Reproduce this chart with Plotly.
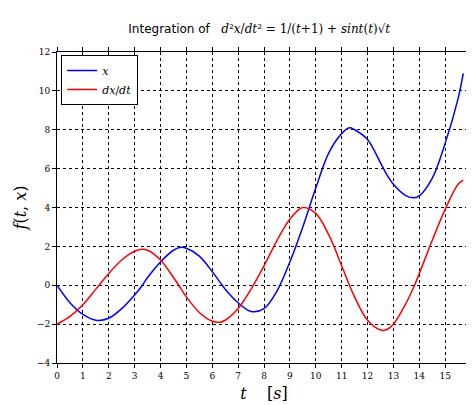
import plotly.graph_objects as go

t = [0, 0.5, 1, 1.5, 2, 2.5, 3, 3.3, 3.5, 4, 4.5, 4.8, 5, 5.5, 6, 6.3, 6.5, 7, 7.5, 8, 8.5, 9, 9.5,
     10, 10.5, 11, 11.3, 11.5, 12, 12.5, 12.7, 13, 13.5, 13.8, 14, 14.5, 15, 15.5, 15.7]
x = [0, -0.9, -1.5, -1.8, -1.7, -1.2, -0.5, 0.0, 0.4, 1.2, 1.8, 1.95, 1.9, 1.5, 0.7, 0.15, -0.2, -0.9,
     -1.35, -1.2, -0.3, 1.2, 3.0, 5.0, 6.8, 7.8, 8.1, 8.0, 7.5, 6.3, 5.8, 5.2, 4.6, 4.5, 4.6, 5.5, 7.3, 9.6, 10.9]
dxdt = [-2.0, -1.6, -1.0, -0.2, 0.6, 1.3, 1.75, 1.85, 1.8, 1.3, 0.4, -0.2, -0.6, -1.4, -1.85, -1.9, -1.8, -1.2,
        -0.2, 1.0, 2.3, 3.4, 4.0, 3.7, 2.6, 1.0, 0.0, -0.6, -1.8, -2.3, -2.3, -2.0, -0.9, -0.05, 0.6, 2.3, 3.9, 5.2, 5.4]

fig = go.Figure()
fig.add_trace(go.Scatter(x=t, y=x, mode='lines', line=dict(color='#0000ff', width=1.5, shape='spline'),
                         name='<i>x</i>'))
fig.add_trace(go.Scatter(x=t, y=dxdt, mode='lines', line=dict(color='#ff0000', width=1.5, shape='spline'),
                         name='<i>dx</i>/<i>dt</i>'))

axis = dict(showline=True, linecolor='black', mirror='ticks', ticks='outside', ticklen=4,
            tickcolor='black', showgrid=True, gridcolor='black', griddash='3px,3px', gridwidth=1,
            zeroline=False, tickfont=dict(size=9, color='black'), automargin=False)
fig.update_xaxes(range=[0, 16], dtick=1, title=dict(text='<i>t</i>    [<i>s</i>]', font=dict(size=16), standoff=8), **axis)
fig.update_yaxes(range=[-4, 12], dtick=2, title=dict(text='<i>f</i>(<i>t</i>, <i>x</i>)', font=dict(size=16), standoff=6), **axis)

fig.update_layout(
    width=474, height=405, plot_bgcolor='white', paper_bgcolor='white',
    font=dict(family='DejaVu Serif', color='black'),
    margin=dict(l=49, r=11, t=44, b=50),
    title=dict(text='<span style="font-family:DejaVu Sans">Integration of</span>   '
                    '<i>d</i>²<i>x</i>/<i>dt</i>² = 1/(<i>t</i>+1) + <i>sint</i>(<i>t</i>)√<i>t</i>',
               x=0.53, y=0.96, xanchor='center', font=dict(size=12)),
    legend=dict(x=0.01, y=0.99, xanchor='left', yanchor='top', bgcolor='white',
                bordercolor='black', borderwidth=1, font=dict(size=11), tracegroupgap=0),
)

fig.write_html("out.html")
